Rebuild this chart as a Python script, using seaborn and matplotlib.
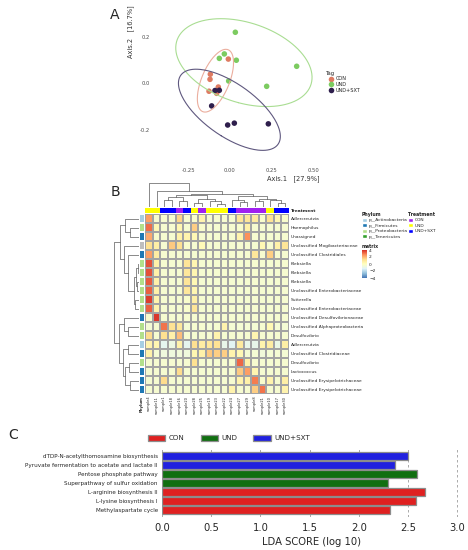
import numpy as np
import pandas as pd
import matplotlib
matplotlib.use("Agg")
import matplotlib.pyplot as plt
from matplotlib.colors import LinearSegmentedColormap, ListedColormap
from matplotlib.patches import Patch
import seaborn as sns

# ---------------- data ----------------
# Panel A: PCoA coordinates per group
con_ax1 = [-0.010, -0.118, -0.120, -0.070, -0.126, -0.080]
con_ax2 = [0.104, 0.039, 0.017, -0.016, -0.034, -0.043]
und_ax1 = [0.032, -0.034, -0.064, 0.038, 0.400, -0.008, 0.220]
und_ax2 = [0.219, 0.126, 0.107, 0.099, 0.073, 0.010, -0.013]
sxt_ax1 = [-0.090, -0.064, -0.110, -0.014, 0.026, 0.230]
sxt_ax2 = [-0.031, -0.030, -0.097, -0.179, -0.171, -0.174]
tag_names = ["CON", "UND", "UND+SXT"]
tag_colors = {"CON": "#DE7B62", "UND": "#7CCB60", "UND+SXT": "#2E1E4C"}
ellipse_colors = {"CON": "#EBAE9E", "UND": "#A9DD92", "UND+SXT": "#5F587F"}

# Panel B: heatmap (row-scaled abundance)
taxa = ["Adlercreutzia", "Haemophilus", "Unassigned", "Unclassified Mogibacteriaceae",
        "Unclassified Clostridiales", "Klebsiella", "Klebsiella", "Klebsiella",
        "Unclassified Enterobacteriaceae", "Sutterella", "Unclassified Enterobacteriaceae",
        "Unclassified Desulfovibrionaceae", "Unclassified Alphaproteobacteria", "Desulfovibrio",
        "Adlercreutzia", "Unclassified Clostridiaceae", "Desulfovibrio", "Lactococcus",
        "Unclassified Erysipelotrichaceae", "Unclassified Erysipelotrichaceae"]
samples = ["sample4", "sample11", "sample1", "sample18", "sample16", "sample20", "sample28",
           "sample25", "sample19", "sample23", "sample22", "sample24", "sample27", "sample29",
           "sample8", "sample21", "sample10", "sample17", "sample30"]
sample_treatment = ["UND", "UND", "UND+SXT", "UND+SXT", "CON", "UND+SXT", "UND", "CON",
                    "UND", "UND", "UND", "UND+SXT", "CON", "CON", "CON", "CON", "UND",
                    "UND+SXT", "UND+SXT"]
taxa_phylum = ["p__Actinobacteria", "p__Proteobacteria", "p__Firmicutes", "NA", "p__Firmicutes",
               "p__Proteobacteria", "p__Proteobacteria", "p__Proteobacteria", "p__Proteobacteria",
               "p__Proteobacteria", "p__Proteobacteria", "p__Firmicutes", "p__Proteobacteria",
               "p__Proteobacteria", "p__Actinobacteria", "p__Firmicutes", "p__Proteobacteria",
               "p__Firmicutes", "p__Firmicutes", "p__Firmicutes"]
heat_values = [
    [2.4, -0.4, -0.4, -0.4, 1.5, -0.4, -0.3, 0.5, -0.4, -0.4, -0.4, -0.4, 1.1, 1.1, 0.9, -0.3, 1.2, 0.4, -0.3],
    [3.1, 0.3, -0.4, -0.4, 0.4, -0.4, 1.6, -0.3, -0.4, -0.4, -0.4, -0.4, -0.3, 0.6, -0.4, -0.4, -0.4, -0.4, -0.4],
    [2.2, -0.3, -0.4, -0.4, 0.6, 0.5, 0.3, -0.4, -0.4, -0.4, -0.4, -0.4, 0.5, 2.6, -0.4, -0.4, -0.4, -0.4, -0.4],
    [1.3, 0.7, -0.4, 1.7, 1.3, -0.3, -0.4, 0.2, -0.4, -0.4, -0.4, -0.4, -0.4, -0.4, -0.4, 0.3, -0.4, 0.6, 1.1],
    [2.4, 0.8, -0.4, -0.4, -0.4, -0.4, -0.4, -0.4, -0.4, -0.4, -0.4, -0.4, -0.4, -0.4, 1.0, -0.4, 1.6, -0.4, -0.4],
    [3.5, 0.6, -0.4, -0.4, -0.4, 1.1, 0.4, -0.4, -0.4, -0.4, -0.4, -0.4, -0.4, -0.4, -0.4, -0.4, -0.4, -0.4, -0.4],
    [3.5, 0.6, -0.4, -0.4, -0.4, 1.0, 0.4, -0.4, -0.4, -0.4, -0.4, -0.4, -0.4, -0.4, -0.4, -0.4, -0.4, -0.4, -0.4],
    [3.4, 0.6, -0.4, -0.4, -0.4, 1.1, 0.3, -0.4, -0.4, -0.4, -0.4, -0.4, -0.4, -0.4, -0.4, -0.4, -0.4, -0.4, -0.4],
    [3.3, 0.6, -0.4, -0.4, -0.4, 1.0, 0.4, -0.4, -0.4, -0.4, -0.4, -0.4, -0.4, -0.4, -0.4, -0.4, -0.4, -0.4, -0.4],
    [3.8, 0.5, -0.4, -0.4, -0.4, -0.3, 0.7, -0.4, -0.4, -0.4, -0.4, -0.4, -0.4, -0.4, -0.4, -0.4, -0.4, -0.4, -0.4],
    [3.3, 0.5, -0.4, -0.4, -0.4, -0.3, 1.1, -0.4, -0.4, -0.4, -0.4, -0.4, -0.4, -0.4, -0.4, -0.4, -0.4, -0.4, -0.4],
    [-0.3, 3.9, -0.4, -0.4, -0.4, -0.4, -0.4, -0.4, -0.4, -0.4, -0.4, -0.4, -0.4, -0.4, -0.4, -0.4, -0.4, -0.4, -0.4],
    [-0.5, -0.4, 3.0, 1.2, 1.0, -0.5, -0.4, -0.4, -0.5, -0.4, 0.5, -0.5, -0.5, -0.5, -0.5, -0.4, 0.3, -0.5, -0.5],
    [1.4, -0.4, 1.3, 0.6, 1.9, -0.4, -0.4, -0.4, -0.4, 0.5, -0.4, -0.4, -0.4, -0.4, 0.4, -0.4, -0.4, -0.4, -0.4],
    [0.5, 0.4, -1.1, -0.8, 0.6, -1.1, 1.3, 0.8, 1.0, 1.2, -1.0, -1.2, 0.9, -1.0, -1.0, 0.5, 0.8, -0.9, 0.7],
    [0.6, -0.5, -0.7, -0.7, -0.6, -0.7, 0.4, 0.6, 1.7, 1.6, 1.6, 0.5, 0.3, -0.5, -0.5, -0.6, -0.5, -0.5, -0.5],
    [-0.4, -0.4, -0.4, -0.4, -0.4, -0.4, 1.3, -0.4, -0.4, -0.4, -0.4, -0.4, 3.2, 0.6, -0.4, -0.4, -0.4, -0.4, -0.4],
    [-0.4, -0.4, -0.4, -0.4, 1.4, -0.4, -0.4, -0.4, -0.4, -0.4, -0.4, -0.4, 1.7, 2.4, 0.4, -0.4, -0.4, -0.4, -0.4],
    [-0.4, -0.4, 1.4, -0.4, -0.4, -0.4, -0.4, -0.4, -0.4, -0.4, -0.4, -0.4, 0.5, 0.6, 2.9, -0.3, 0.5, -0.4, 0.7],
    [-0.4, -0.4, -0.4, -0.4, -0.4, -0.4, -0.4, -0.4, -0.4, -0.4, -0.4, 0.5, -0.4, -0.4, 1.6, 3.0, -0.4, -0.4, 0.5],
]
# dendrograms as nested (left, right, height) merges, leaves are column / row indices
col_tree = (0, (1, ((((2, 3, 0.30), (4, 5, 0.25), 0.42), ((6, 7, 0.20), (8, (9, 10, 0.15), 0.26), 0.36), 0.50),
                    ((11, (12, 13, 0.22), 0.32), ((14, 15, 0.26), (16, (17, 18, 0.20), 0.30), 0.36), 0.46), 0.58), 0.70), 1.0)
row_tree = (((0, (1, 2, 0.35), 0.55), (3, (4, (((5, 6, 0.04), (7, 8, 0.07), 0.11), (9, 10, 0.14), 0.19), 0.45), 0.62), 0.78),
            ((11, (12, 13, 0.42), 0.62), ((14, 15, 0.45), ((16, 17, 0.40), (18, 19, 0.36), 0.55), 0.66), 0.80), 1.0)
phylum_names = ["p__Actinobacteria", "p__Firmicutes", "p__Proteobacteria", "p__Tenericutes"]
phylum_colors = ["#A6CEE3", "#1F78B4", "#B2DF8A", "#33A02C"]
treat_colors = {"CON": "#A020F0", "UND": "#FFFF00", "UND+SXT": "#0000FF"}

# Panel C: LEfSe LDA scores
pathways = ["dTDP-N-acetylthomosamine biosynthesis", "Pyruvate fermentation to acetate and lactate II",
            "Pentose phosphate pathway", "Superpathway of sulfur oxidation", "L-arginine biosynthesis II",
            "L-lysine biosynthesis I", "Methylaspartate cycle"]
lda_scores = [2.50, 2.37, 2.59, 2.30, 2.67, 2.58, 2.32]
pathway_groups = ["UND+SXT", "UND+SXT", "UND", "UND", "CON", "CON", "CON"]
lda_palette = {"CON": "#FF0000", "UND": "#007F00", "UND+SXT": "#0000FF"}

# ---------------- figure ----------------
sns.set_style("white")
plt.rcParams["font.family"] = ["DejaVu Sans"]
W, H = 468, 550
fig = plt.figure(figsize=(W / 100, H / 100), dpi=100)


def box(x0, y0, x1, y1):
    return [x0 / W, 1 - y1 / H, (x1 - x0) / W, (y1 - y0) / H]


def pt(px):
    return px * 72 / 100


# ---- Panel A ----
axa = fig.add_axes(box(160, 5, 320, 165))
df_a = pd.DataFrame({
    "Axis.1": con_ax1 + und_ax1 + sxt_ax1,
    "Axis.2": con_ax2 + und_ax2 + sxt_ax2,
    "Tag": ["CON"] * len(con_ax1) + ["UND"] * len(und_ax1) + ["UND+SXT"] * len(sxt_ax1),
})
r95 = np.sqrt(-2 * np.log(0.05))
tt = np.linspace(0, 2 * np.pi, 200)
for tag in tag_names:
    sub = df_a[df_a["Tag"] == tag]
    xy = sub[["Axis.1", "Axis.2"]].to_numpy()
    vals, vecs = np.linalg.eigh(np.cov(xy.T))
    circ = np.vstack([np.cos(tt), np.sin(tt)]) * np.sqrt(vals)[:, None] * r95
    ell = vecs @ circ + xy.mean(axis=0)[:, None]
    axa.plot(ell[0], ell[1], color=ellipse_colors[tag], lw=0.8)
sns.scatterplot(data=df_a, x="Axis.1", y="Axis.2", hue="Tag", hue_order=tag_names,
                palette=tag_colors, s=16, edgecolor="none", ax=axa)
axa.set_xlim(-0.42, 0.54)
axa.set_ylim(-0.3506, 0.336)
axa.set_xticks([-0.25, 0, 0.25, 0.5], ["-0.25", "0.00", "0.25", "0.50"])
axa.set_yticks([-0.2, 0, 0.2], ["-0.2", "0.0", "0.2"])
axa.tick_params(length=0, labelsize=pt(5.2), labelcolor="#4D4D4D")
axa.tick_params(axis="x", pad=2)
axa.tick_params(axis="y", pad=7)
axa.set_xlabel("Axis.1   [27.9%]", fontsize=pt(6.6), color="#333333", loc="right", labelpad=2)
axa.set_ylabel("Axis.2   [16.7%]", fontsize=pt(6.6), color="#333333", loc="top", labelpad=4)
for s in axa.spines.values():
    s.set_visible(False)
sns.move_legend(axa, "upper left", bbox_to_anchor=(322 / W, 1 - 67 / H),
                bbox_transform=fig.transFigure, frameon=False, title="Tag",
                fontsize=pt(5), title_fontsize=pt(5.4), alignment="left",
                labelspacing=0.15, handletextpad=0.1, borderpad=0.2)

# ---- Panel B ----
rdylbu = ["#4575B4", "#91BFDB", "#E0F3F8", "#FFFFBF", "#FEE090", "#FC8D59", "#D73027"]
heat_cmap = LinearSegmentedColormap.from_list("rdylbu7", rdylbu)
heat_df = pd.DataFrame(heat_values, index=taxa, columns=samples)

axh = fig.add_axes(box(145.3, 214, 289, 394))
sns.heatmap(heat_df, cmap=heat_cmap, vmin=-4, vmax=4, cbar=False, linewidths=0.35,
            linecolor="#A3A3A3", xticklabels=True, yticklabels=True, ax=axh)
axh.yaxis.tick_right()
axh.set_yticklabels(taxa, rotation=0, fontsize=pt(4.4))
axh.set_xticklabels(samples, rotation=90, fontsize=pt(3.6))
axh.tick_params(length=0, pad=1.2)
axh.set_xlabel("")
axh.set_ylabel("")

# treatment annotation bar
treat_codes = [tag_names.index(t) for t in sample_treatment]
axt = fig.add_axes(box(145.3, 208, 289, 213.2))
sns.heatmap(pd.DataFrame([treat_codes]), cmap=ListedColormap([treat_colors[t] for t in tag_names]),
            vmin=-0.5, vmax=2.5, cbar=False, xticklabels=False, yticklabels=False, ax=axt)
fig.text(291 / W, 1 - 210.6 / H, "Treatment", fontsize=pt(4.4), fontweight="bold", va="center")

# phylum annotation column
phy_all = phylum_names + ["NA"]
phy_codes = [phy_all.index(p) for p in taxa_phylum]
axp = fig.add_axes(box(139, 214, 144.6, 394))
sns.heatmap(pd.DataFrame({"Phylum": phy_codes}), cmap=ListedColormap(phylum_colors + ["#BEBEBE"]),
            vmin=-0.5, vmax=4.5, cbar=False, linewidths=0.3, linecolor="white",
            xticklabels=True, yticklabels=False, ax=axp)
axp.set_xticklabels(["Phylum"], rotation=90, fontsize=pt(3.8), fontweight="bold")
axp.tick_params(length=0, pad=1.2)


def draw_tree(ax, node, orient):
    if isinstance(node, int):
        return node + 0.5, 0.0
    left, right, h = node
    p1, h1 = draw_tree(ax, left, orient)
    p2, h2 = draw_tree(ax, right, orient)
    pos, hts = [p1, p1, p2, p2], [h1, h, h, h2]
    if orient == "top":
        ax.plot(pos, hts, color="#5A5A5A", lw=0.5)
    else:
        ax.plot(hts, pos, color="#5A5A5A", lw=0.5)
    return (p1 + p2) / 2, h


axcd = fig.add_axes(box(145.3, 183, 289, 207.5))
draw_tree(axcd, col_tree, "top")
axcd.set_xlim(0, len(samples))
axcd.set_ylim(0, 1.02)
axcd.axis("off")

axrd = fig.add_axes(box(114, 214, 138.5, 394))
draw_tree(axrd, row_tree, "left")
axrd.set_ylim(len(taxa), 0)
axrd.set_xlim(1.02, 0)
axrd.axis("off")

leg_kw = dict(loc="upper left", frameon=False, fontsize=pt(4.4), title_fontsize=pt(4.6),
              alignment="left", handlelength=1.1, handleheight=1.1, handletextpad=0.5,
              labelspacing=0.18, borderpad=0, borderaxespad=0)
lg1 = fig.legend(handles=[Patch(facecolor=c, label=n) for n, c in zip(phylum_names, phylum_colors)],
                 title="Phylum", bbox_to_anchor=(362 / W, 1 - 212 / H), **leg_kw)
lg1.get_title().set_fontweight("bold")
lg2 = fig.legend(handles=[Patch(facecolor=treat_colors[t], label=t) for t in tag_names],
                 title="Treatment", bbox_to_anchor=(408 / W, 1 - 212 / H), **leg_kw)
lg2.get_title().set_fontweight("bold")

cax = fig.add_axes(box(362, 250, 367, 278))
cb = fig.colorbar(axh.collections[0], cax=cax, ticks=[4, 2, 0, -2, -4])
cb.outline.set_visible(False)
cax.tick_params(length=0, labelsize=pt(4.4), pad=1.5)
fig.text(362 / W, 1 - 246 / H, "matrix", fontsize=pt(4.6), fontweight="bold", va="center")

# ---- Panel C ----
axc = fig.add_axes(box(162, 448, 462, 517))
df_c = pd.DataFrame({"pathway": pathways, "score": lda_scores, "group": pathway_groups})
sns.barplot(data=df_c, x="score", y="pathway", hue="group", hue_order=tag_names,
            palette=lda_palette, dodge=False, width=0.9, edgecolor="#8C8C8C",
            linewidth=0.9, ax=axc)
axc.set_xlim(0, 3.05)
axc.set_ylim(6.78, -0.89)
axc.set_xticks([0, 0.5, 1.0, 1.5, 2.0, 2.5, 3.0])
axc.set_xticklabels(["0.0", "0.5", "1.0", "1.5", "2.0", "2.5", "3.0"])
axc.tick_params(axis="x", length=0, labelsize=pt(10), pad=4)
axc.tick_params(axis="y", length=0, labelsize=pt(5.6), pad=3)
axc.set_ylabel("")
axc.set_xlabel("LDA SCORE (log 10)", fontsize=pt(10), labelpad=3)
axc.xaxis.grid(True, linestyle=(0, (3, 3)), color="#9C9C9C", lw=0.6)
axc.set_axisbelow(True)
for s in axc.spines.values():
    s.set_visible(False)
handles, labels = axc.get_legend_handles_labels()
axc.legend(handles, labels, loc="center", bbox_to_anchor=(229 / W, 1 - 438 / H),
           bbox_transform=fig.transFigure, ncol=3, frameon=False, fontsize=pt(7.2),
           handlelength=2.4, handleheight=0.9, handletextpad=0.5, columnspacing=2.2)

# panel letters
fig.text(115 / W, 1 - 15 / H, "A", fontsize=pt(14), ha="center", va="center")
fig.text(115 / W, 1 - 192 / H, "B", fontsize=pt(14), ha="center", va="center")
fig.text(13 / W, 1 - 435 / H, "C", fontsize=pt(14), ha="center", va="center")

fig.savefig("out.png", dpi=100, facecolor="white")
